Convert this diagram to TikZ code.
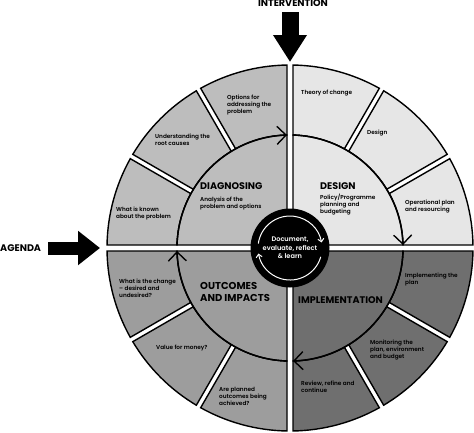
\documentclass[tikz,border=0pt]{standalone}
\usepackage{fontspec}
\setmainfont{Poppins}[BoldFont={Poppins SemiBold}]
\newfontfamily\heavyfont{Poppins Bold}
\usetikzlibrary{arrows.meta}
\definecolor{diagfill}{HTML}{BDBDBD}
\definecolor{desfill}{HTML}{E6E6E6}
\definecolor{outfill}{HTML}{9D9D9D}
\definecolor{impfill}{HTML}{6F6F6F}

\begin{document}
\begin{tikzpicture}[x=1pt,y=1pt,yscale=-1,xscale=1,
  part/.style={draw=black, line width=1.4pt},
  txt/.style={anchor=north west, inner sep=0pt, align=left, font=\bfseries\fontsize{5.75}{6.8}\selectfont},
  head/.style={inner sep=0pt, align=left, font=\heavyfont\fontsize{9.6}{12}\selectfont},
  side/.style={inner sep=0pt, font=\heavyfont\fontsize{9.6}{10}\selectfont},
  turn/.style={line width=1.4pt, -{Straight Barb[length=9pt,width=18pt]}},
  hubturn/.style={white, line width=1pt, -{Straight Barb[length=3pt,width=6pt]}}]
\useasboundingbox (0,0) rectangle (474,432);

%Shape: Wheel quadrants and segments
\begin{scope}[shift={(290,248)},yscale=-1]
\foreach \q/\col in {90/diagfill,0/desfill,270/impfill,180/outfill}{
  \foreach \a/\b/\da/\db in {0/30/3/2.5,30/60/2.5/2.5,60/90/2.5/3}{
    \pgfmathsetmacro\sa{\q+\a+asin(\da/183)}
    \pgfmathsetmacro\ea{\q+\b-asin(\db/183)}
    \pgfmathsetmacro\si{\q+\b-asin(\db/113)}
    \pgfmathsetmacro\ei{\q+\a+asin(\da/113)}
    \draw[part,fill=\col] (\sa:183) arc[start angle=\sa,end angle=\ea,radius=183] -- (\si:113) arc[start angle=\si,end angle=\ei,radius=113] -- cycle;
  }
  \pgfmathsetmacro\s{\q+asin(3/113)}
  \pgfmathsetmacro\e{\q+90-asin(3/113)}
  \draw[part,fill=\col] ({\q+45}:4.24) -- (\s:113) arc[start angle=\s,end angle=\e,radius=113] -- cycle;
  \draw[turn] (\e:113) arc[start angle=\e,end angle=\s,radius=113];
}
%Shape: Hub
\node[circle, fill=black, minimum size=79pt, inner sep=0pt, text=white, align=center, font=\bfseries\fontsize{6.6}{8.5}\selectfont] (hub) at (0,0) {Document,\\evaluate, reflect\\\& learn};
\draw[hubturn] (172:32) arc[start angle=172,end angle=10,radius=32];
\draw[hubturn] (-16:32) arc[start angle=-16,end angle=-170,radius=32];
\end{scope}

% Text Node
\node[txt] (options) at (227,95) {Options for\\addressing the\\problem};
% Text Node
\node[txt] (roots) at (155,134) {Understanding the\\root causes};
% Text Node
\node[txt] (known) at (116,207) {What is known\\about the problem};
% Text Node
\node[head, anchor=west] (diagnosing) at (200,186) {DIAGNOSING};
% Text Node
\node[txt] (analysis) at (200,197) {Analysis of the\\problem and options};

% Text Node
\node[txt] (theory) at (301,90) {Theory of change};
% Text Node
\node[txt] (designseg) at (367,130) {Design};
% Text Node
\node[txt] (operational) at (405,200) {Operational plan\\and resourcing};
% Text Node
\node[head, anchor=west] (design) at (320,186) {DESIGN};
% Text Node
\node[txt] (policy) at (320,194) {Policy/Programme\\planning and\\budgeting};

% Text Node
\node[txt] (change) at (119,279) {What is the change\\– desired and\\undesired?};
% Text Node
\node[head, anchor=north west, font=\heavyfont\fontsize{10}{12}\selectfont] (outcomes) at (200,282.5) {OUTCOMES\\AND IMPACTS};
% Text Node
\node[txt] (money) at (156,345) {Value for money?};
% Text Node
\node[txt] (planned) at (219,387) {Are planned\\outcomes being\\achieved?};

% Text Node
\node[txt] (implementing) at (405,273) {Implementing the\\plan};
% Text Node
\node[head, anchor=west] (implementation) at (298,300) {IMPLEMENTATION};
% Text Node
\node[txt] (monitoring) at (370,340) {Monitoring the\\plan, environment\\and budget};
% Text Node
\node[txt] (review) at (301,381) {Review, refine and\\continue};

% Entry arrows
\node[side] (intervention) at (293,3.5) {INTERVENTION};
\coordinate (intail) at (290,12);
\coordinate (intip) at (290,62);
\draw[line width=17pt, -{Triangle[length=27pt,width=32pt]}] (intail) -- (intip);
\node[side, anchor=west] (agenda) at (0,248) {AGENDA};
\coordinate (agtail) at (48,248);
\coordinate (agtip) at (100,248);
\draw[line width=13pt, -{Triangle[length=22pt,width=33pt]}] (agtail) -- (agtip);

\end{tikzpicture}
\end{document}
